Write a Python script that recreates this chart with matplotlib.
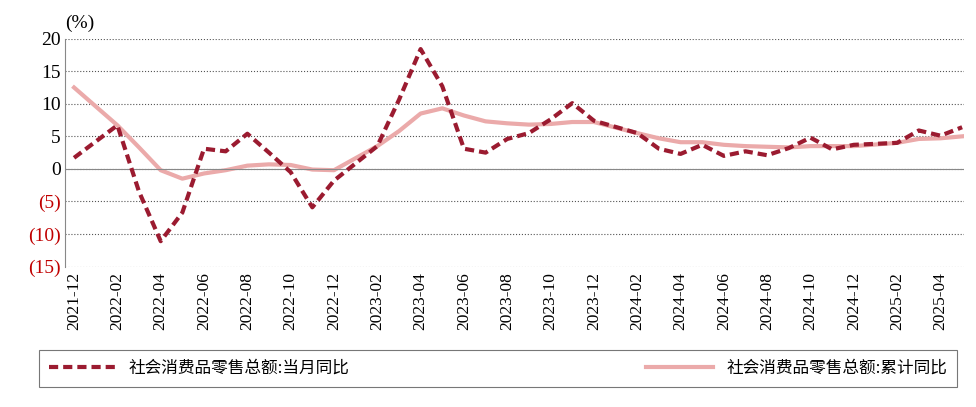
import numpy as np
import pandas as pd
import matplotlib.pyplot as plt

plt.rcParams['font.family'] = ['Liberation Serif', 'Noto Sans CJK SC']

months = (['2021-12'] + [f'2022-{m:02d}' for m in range(2, 13)]
          + [f'2023-{m:02d}' for m in range(2, 13)]
          + [f'2024-{m:02d}' for m in range(2, 13)]
          + [f'2025-{m:02d}' for m in range(2, 6)])
monthly_yoy = [1.7,
               6.7, -3.5, -11.1, -6.7, 3.1, 2.7, 5.4, 2.5, -0.5, -5.9, -1.8,
               3.5, 10.6, 18.4, 12.7, 3.1, 2.5, 4.6, 5.5, 7.6, 10.1, 7.4,
               5.5, 3.1, 2.3, 3.7, 2.0, 2.7, 2.1, 3.2, 4.8, 3.0, 3.7,
               4.0, 5.9, 5.1, 6.4]
cum_yoy = [12.5,
           6.7, 3.3, -0.2, -1.5, -0.7, -0.2, 0.5, 0.7, 0.6, -0.1, -0.2,
           3.5, 5.8, 8.5, 9.3, 8.2, 7.3, 7.0, 6.8, 6.9, 7.2, 7.2,
           5.5, 4.7, 4.1, 4.1, 3.7, 3.5, 3.4, 3.3, 3.5, 3.5, 3.5,
           4.0, 4.6, 4.7, 5.0]

start = pd.Period('2021-12', 'M')
x = [(pd.Period(m, 'M') - start).n for m in months]
tick_labels = [(start + i).strftime('%Y-%m') for i in range(0, 42, 2)]
tick_pos = list(range(0, 42, 2))

fig = plt.figure(figsize=(9.76, 4.07), dpi=100)
ax = fig.add_axes([0.067, 0.345, 0.921, 0.56])
ax.plot(x, cum_yoy, color='#EBAAAA', lw=3, label='社会消费品零售总额:累计同比', zorder=2)
ax.plot(x, monthly_yoy, color='#9B1B30', lw=3, ls=(0, (2.2, 1.2)),
        label='社会消费品零售总额:当月同比', zorder=3)

ax.set_xlim(-0.4, 41.1)
ax.set_ylim(-15, 20)
ax.set_yticks(range(-15, 21, 5))
ylabels = []
for v in range(-15, 21, 5):
    ylabels.append(f'({abs(v)})' if v < 0 else str(v))
ax.set_yticklabels(ylabels, fontsize=14)
for lab, v in zip(ax.get_yticklabels(), range(-15, 21, 5)):
    if v < 0:
        lab.set_color('#C00000')
ax.set_xticks(tick_pos)
ax.set_xticklabels(tick_labels, rotation=90, fontsize=12.5)
ax.grid(axis='y', ls=':', color='#555555', lw=0.8)
for s in ['top', 'right', 'bottom']:
    ax.spines[s].set_visible(False)
ax.spines['left'].set_color('#888888')
ax.axhline(0, color='#888888', lw=0.8)
ax.tick_params(axis='both', length=0)
ax.tick_params(axis='x', pad=4)
ax.text(0.0, 1.03, '(%)', transform=ax.transAxes, fontsize=14, ha='left', va='bottom')

h, l = ax.get_legend_handles_labels()
leg = fig.legend(h[::-1], l[::-1], loc='center', bbox_to_anchor=(0.031, 0.04, 0.958, 0.11),
                 mode='expand', ncol=2, frameon=True, fancybox=False, edgecolor='#555555',
                 handlelength=4, borderpad=0.6,
                 prop={'family': ['Noto Sans CJK SC'], 'size': 12})
leg.get_frame().set_linewidth(0.8)
fig.savefig('out.png', dpi=100)
